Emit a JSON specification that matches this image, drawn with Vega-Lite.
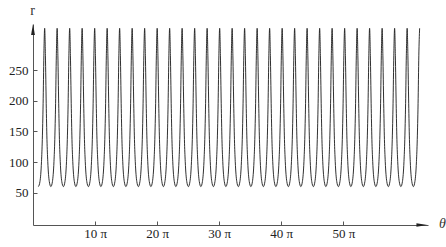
{
 "$schema": "https://vega.github.io/schema/vega-lite/v6.json",
 "width": 395,
 "height": 201,
 "autosize": {"type": "none"},
 "padding": {"left": 33, "top": 24, "right": 18, "bottom": 22},
 "background": "white",
 "config": {"view": {"stroke": null}, "font": "Liberation Serif"},
 "layer": [
  {
   "data": {"values": [
{"t":0.87,"r":60},{"t":1.12,"r":68.1},{"t":1.37,"r":101},{"t":1.50,"r":136.6},{"t":1.63,"r":195.1},{"t":1.75,"r":273.2},{"t":1.88,"r":318},{"t":2.00,"r":273.2},{"t":2.13,"r":195.1},{"t":2.25,"r":136.6},{"t":2.38,"r":101},{"t":2.63,"r":68.1},
{"t":2.88,"r":60},{"t":3.13,"r":68.1},{"t":3.38,"r":101},{"t":3.51,"r":136.6},{"t":3.64,"r":195.1},{"t":3.76,"r":273.2},{"t":3.89,"r":318},{"t":4.01,"r":273.2},{"t":4.14,"r":195.1},{"t":4.26,"r":136.6},{"t":4.39,"r":101},{"t":4.64,"r":68.1},
{"t":4.90,"r":60},{"t":5.15,"r":68.1},{"t":5.40,"r":101},{"t":5.53,"r":136.6},{"t":5.66,"r":195.1},{"t":5.78,"r":273.2},{"t":5.91,"r":318},{"t":6.03,"r":273.2},{"t":6.16,"r":195.1},{"t":6.28,"r":136.6},{"t":6.41,"r":101},{"t":6.66,"r":68.1},
{"t":6.91,"r":60},{"t":7.16,"r":68.1},{"t":7.41,"r":101},{"t":7.54,"r":136.6},{"t":7.67,"r":195.1},{"t":7.79,"r":273.2},{"t":7.92,"r":318},{"t":8.04,"r":273.2},{"t":8.17,"r":195.1},{"t":8.29,"r":136.6},{"t":8.42,"r":101},{"t":8.67,"r":68.1},
{"t":8.93,"r":60},{"t":9.18,"r":68.1},{"t":9.43,"r":101},{"t":9.56,"r":136.6},{"t":9.69,"r":195.1},{"t":9.81,"r":273.2},{"t":9.94,"r":318},{"t":10.06,"r":273.2},{"t":10.19,"r":195.1},{"t":10.31,"r":136.6},{"t":10.44,"r":101},{"t":10.69,"r":68.1},
{"t":10.94,"r":60},{"t":11.19,"r":68.1},{"t":11.44,"r":101},{"t":11.57,"r":136.6},{"t":11.70,"r":195.1},{"t":11.82,"r":273.2},{"t":11.95,"r":318},{"t":12.07,"r":273.2},{"t":12.20,"r":195.1},{"t":12.32,"r":136.6},{"t":12.45,"r":101},{"t":12.70,"r":68.1},
{"t":12.95,"r":60},{"t":13.20,"r":68.1},{"t":13.45,"r":101},{"t":13.58,"r":136.6},{"t":13.71,"r":195.1},{"t":13.83,"r":273.2},{"t":13.96,"r":318},{"t":14.08,"r":273.2},{"t":14.21,"r":195.1},{"t":14.33,"r":136.6},{"t":14.46,"r":101},{"t":14.71,"r":68.1},
{"t":14.97,"r":60},{"t":15.22,"r":68.1},{"t":15.47,"r":101},{"t":15.60,"r":136.6},{"t":15.73,"r":195.1},{"t":15.85,"r":273.2},{"t":15.98,"r":318},{"t":16.10,"r":273.2},{"t":16.23,"r":195.1},{"t":16.35,"r":136.6},{"t":16.48,"r":101},{"t":16.73,"r":68.1},
{"t":16.98,"r":60},{"t":17.23,"r":68.1},{"t":17.48,"r":101},{"t":17.61,"r":136.6},{"t":17.74,"r":195.1},{"t":17.86,"r":273.2},{"t":17.99,"r":318},{"t":18.11,"r":273.2},{"t":18.24,"r":195.1},{"t":18.36,"r":136.6},{"t":18.49,"r":101},{"t":18.74,"r":68.1},
{"t":19.00,"r":60},{"t":19.25,"r":68.1},{"t":19.50,"r":101},{"t":19.63,"r":136.6},{"t":19.76,"r":195.1},{"t":19.88,"r":273.2},{"t":20.01,"r":318},{"t":20.13,"r":273.2},{"t":20.26,"r":195.1},{"t":20.38,"r":136.6},{"t":20.51,"r":101},{"t":20.76,"r":68.1},
{"t":21.01,"r":60},{"t":21.26,"r":68.1},{"t":21.51,"r":101},{"t":21.64,"r":136.6},{"t":21.77,"r":195.1},{"t":21.89,"r":273.2},{"t":22.02,"r":318},{"t":22.14,"r":273.2},{"t":22.27,"r":195.1},{"t":22.39,"r":136.6},{"t":22.52,"r":101},{"t":22.77,"r":68.1},
{"t":23.02,"r":60},{"t":23.27,"r":68.1},{"t":23.52,"r":101},{"t":23.65,"r":136.6},{"t":23.78,"r":195.1},{"t":23.90,"r":273.2},{"t":24.03,"r":318},{"t":24.15,"r":273.2},{"t":24.28,"r":195.1},{"t":24.40,"r":136.6},{"t":24.53,"r":101},{"t":24.78,"r":68.1},
{"t":25.04,"r":60},{"t":25.29,"r":68.1},{"t":25.54,"r":101},{"t":25.67,"r":136.6},{"t":25.80,"r":195.1},{"t":25.92,"r":273.2},{"t":26.05,"r":318},{"t":26.17,"r":273.2},{"t":26.30,"r":195.1},{"t":26.42,"r":136.6},{"t":26.55,"r":101},{"t":26.80,"r":68.1},
{"t":27.05,"r":60},{"t":27.30,"r":68.1},{"t":27.55,"r":101},{"t":27.68,"r":136.6},{"t":27.81,"r":195.1},{"t":27.93,"r":273.2},{"t":28.06,"r":318},{"t":28.18,"r":273.2},{"t":28.31,"r":195.1},{"t":28.43,"r":136.6},{"t":28.56,"r":101},{"t":28.81,"r":68.1},
{"t":29.07,"r":60},{"t":29.32,"r":68.1},{"t":29.57,"r":101},{"t":29.70,"r":136.6},{"t":29.83,"r":195.1},{"t":29.95,"r":273.2},{"t":30.08,"r":318},{"t":30.20,"r":273.2},{"t":30.33,"r":195.1},{"t":30.45,"r":136.6},{"t":30.58,"r":101},{"t":30.83,"r":68.1},
{"t":31.08,"r":60},{"t":31.33,"r":68.1},{"t":31.58,"r":101},{"t":31.71,"r":136.6},{"t":31.84,"r":195.1},{"t":31.96,"r":273.2},{"t":32.09,"r":318},{"t":32.21,"r":273.2},{"t":32.34,"r":195.1},{"t":32.46,"r":136.6},{"t":32.59,"r":101},{"t":32.84,"r":68.1},
{"t":33.09,"r":60},{"t":33.34,"r":68.1},{"t":33.59,"r":101},{"t":33.72,"r":136.6},{"t":33.85,"r":195.1},{"t":33.97,"r":273.2},{"t":34.10,"r":318},{"t":34.22,"r":273.2},{"t":34.35,"r":195.1},{"t":34.47,"r":136.6},{"t":34.60,"r":101},{"t":34.85,"r":68.1},
{"t":35.11,"r":60},{"t":35.36,"r":68.1},{"t":35.61,"r":101},{"t":35.74,"r":136.6},{"t":35.87,"r":195.1},{"t":35.99,"r":273.2},{"t":36.12,"r":318},{"t":36.24,"r":273.2},{"t":36.37,"r":195.1},{"t":36.49,"r":136.6},{"t":36.62,"r":101},{"t":36.87,"r":68.1},
{"t":37.12,"r":60},{"t":37.37,"r":68.1},{"t":37.62,"r":101},{"t":37.75,"r":136.6},{"t":37.88,"r":195.1},{"t":38.00,"r":273.2},{"t":38.13,"r":318},{"t":38.25,"r":273.2},{"t":38.38,"r":195.1},{"t":38.50,"r":136.6},{"t":38.63,"r":101},{"t":38.88,"r":68.1},
{"t":39.14,"r":60},{"t":39.39,"r":68.1},{"t":39.64,"r":101},{"t":39.77,"r":136.6},{"t":39.90,"r":195.1},{"t":40.02,"r":273.2},{"t":40.15,"r":318},{"t":40.27,"r":273.2},{"t":40.40,"r":195.1},{"t":40.52,"r":136.6},{"t":40.65,"r":101},{"t":40.90,"r":68.1},
{"t":41.15,"r":60},{"t":41.40,"r":68.1},{"t":41.65,"r":101},{"t":41.78,"r":136.6},{"t":41.91,"r":195.1},{"t":42.03,"r":273.2},{"t":42.16,"r":318},{"t":42.28,"r":273.2},{"t":42.41,"r":195.1},{"t":42.53,"r":136.6},{"t":42.66,"r":101},{"t":42.91,"r":68.1},
{"t":43.16,"r":60},{"t":43.41,"r":68.1},{"t":43.66,"r":101},{"t":43.79,"r":136.6},{"t":43.92,"r":195.1},{"t":44.04,"r":273.2},{"t":44.17,"r":318},{"t":44.29,"r":273.2},{"t":44.42,"r":195.1},{"t":44.54,"r":136.6},{"t":44.67,"r":101},{"t":44.92,"r":68.1},
{"t":45.18,"r":60},{"t":45.43,"r":68.1},{"t":45.68,"r":101},{"t":45.81,"r":136.6},{"t":45.94,"r":195.1},{"t":46.06,"r":273.2},{"t":46.19,"r":318},{"t":46.31,"r":273.2},{"t":46.44,"r":195.1},{"t":46.56,"r":136.6},{"t":46.69,"r":101},{"t":46.94,"r":68.1},
{"t":47.19,"r":60},{"t":47.44,"r":68.1},{"t":47.69,"r":101},{"t":47.82,"r":136.6},{"t":47.95,"r":195.1},{"t":48.07,"r":273.2},{"t":48.20,"r":318},{"t":48.32,"r":273.2},{"t":48.45,"r":195.1},{"t":48.57,"r":136.6},{"t":48.70,"r":101},{"t":48.95,"r":68.1},
{"t":49.21,"r":60},{"t":49.46,"r":68.1},{"t":49.71,"r":101},{"t":49.84,"r":136.6},{"t":49.97,"r":195.1},{"t":50.09,"r":273.2},{"t":50.22,"r":318},{"t":50.34,"r":273.2},{"t":50.47,"r":195.1},{"t":50.59,"r":136.6},{"t":50.72,"r":101},{"t":50.97,"r":68.1},
{"t":51.22,"r":60},{"t":51.47,"r":68.1},{"t":51.72,"r":101},{"t":51.85,"r":136.6},{"t":51.98,"r":195.1},{"t":52.10,"r":273.2},{"t":52.23,"r":318},{"t":52.35,"r":273.2},{"t":52.48,"r":195.1},{"t":52.60,"r":136.6},{"t":52.73,"r":101},{"t":52.98,"r":68.1},
{"t":53.23,"r":60},{"t":53.48,"r":68.1},{"t":53.73,"r":101},{"t":53.86,"r":136.6},{"t":53.99,"r":195.1},{"t":54.11,"r":273.2},{"t":54.24,"r":318},{"t":54.36,"r":273.2},{"t":54.49,"r":195.1},{"t":54.61,"r":136.6},{"t":54.74,"r":101},{"t":54.99,"r":68.1},
{"t":55.25,"r":60},{"t":55.50,"r":68.1},{"t":55.75,"r":101},{"t":55.88,"r":136.6},{"t":56.01,"r":195.1},{"t":56.13,"r":273.2},{"t":56.26,"r":318},{"t":56.38,"r":273.2},{"t":56.51,"r":195.1},{"t":56.63,"r":136.6},{"t":56.76,"r":101},{"t":57.01,"r":68.1},
{"t":57.26,"r":60},{"t":57.51,"r":68.1},{"t":57.76,"r":101},{"t":57.89,"r":136.6},{"t":58.02,"r":195.1},{"t":58.14,"r":273.2},{"t":58.27,"r":318},{"t":58.39,"r":273.2},{"t":58.52,"r":195.1},{"t":58.64,"r":136.6},{"t":58.77,"r":101},{"t":59.02,"r":68.1},
{"t":59.28,"r":60},{"t":59.53,"r":68.1},{"t":59.78,"r":101},{"t":59.91,"r":136.6},{"t":60.04,"r":195.1},{"t":60.16,"r":273.2},{"t":60.29,"r":318},{"t":60.41,"r":273.2},{"t":60.54,"r":195.1},{"t":60.66,"r":136.6},{"t":60.79,"r":101},{"t":61.04,"r":68.1},
{"t":61.29,"r":60},{"t":61.54,"r":68.1},{"t":61.79,"r":101},{"t":61.92,"r":136.6},{"t":62.05,"r":195.1},{"t":62.17,"r":273.2},{"t":62.30,"r":318}
   ]},
   "mark": {"type": "line", "interpolate": "monotone", "color": "#1a1a1a", "strokeWidth": 0.9, "clip": true},
   "encoding": {
    "x": {
     "field": "t", "type": "quantitative",
     "scale": {"domain": [0, 63.65], "nice": false, "zero": false},
     "axis": {
      "values": [10, 20, 30, 40, 50],
      "labelExpr": "datum.value + ' π'",
      "grid": false,
      "tickSize": -4,
      "labelPadding": 6,
      "labelDx": -3,
      "labelFont": "Liberation Serif",
      "labelFontSize": 13,
      "labelColor": "#222",
      "domainColor": "#555",
      "tickColor": "#555",
      "title": "θ",
      "titleFont": "Liberation Serif",
      "titleFontStyle": "italic",
      "titleFontWeight": "normal",
      "titleFontSize": 14,
      "titleColor": "#333",
      "titleAlign": "center",
      "titleBaseline": "middle",
      "titleX": 409,
      "titleY": -2
     }
    },
    "y": {
     "field": "r", "type": "quantitative",
     "scale": {"domain": [-2.6, 325], "nice": false, "zero": false},
     "axis": {
      "values": [50, 100, 150, 200, 250],
      "grid": false,
      "tickSize": -4,
      "labelPadding": 9,
      "labelFont": "Liberation Serif",
      "labelFontSize": 13,
      "labelColor": "#222",
      "domainColor": "#555",
      "tickColor": "#555",
      "title": "r",
      "titleFont": "Liberation Serif",
      "titleFontWeight": "normal",
      "titleFontSize": 14,
      "titleColor": "#333",
      "titleAngle": 0,
      "titleAlign": "center",
      "titleBaseline": "middle",
      "titleX": -1,
      "titleY": -14
     }
    }
   }
  },
  {
   "data": {"values": [{"t": 62.67, "r": -2.6}]},
   "mark": {"type": "point", "shape": "M-1,-0.3L1,0L-1,0.3Z", "filled": true, "size": 121, "color": "#222", "opacity": 1},
   "encoding": {"x": {"field": "t", "type": "quantitative"}, "y": {"field": "r", "type": "quantitative"}}
  },
  {
   "data": {"values": [{"t": 0, "r": 316}]},
   "mark": {"type": "point", "shape": "M-0.35,1L0,-1L0.35,1Z", "filled": true, "size": 121, "color": "#222", "opacity": 1},
   "encoding": {"x": {"field": "t", "type": "quantitative"}, "y": {"field": "r", "type": "quantitative"}}
  }
 ]
}
